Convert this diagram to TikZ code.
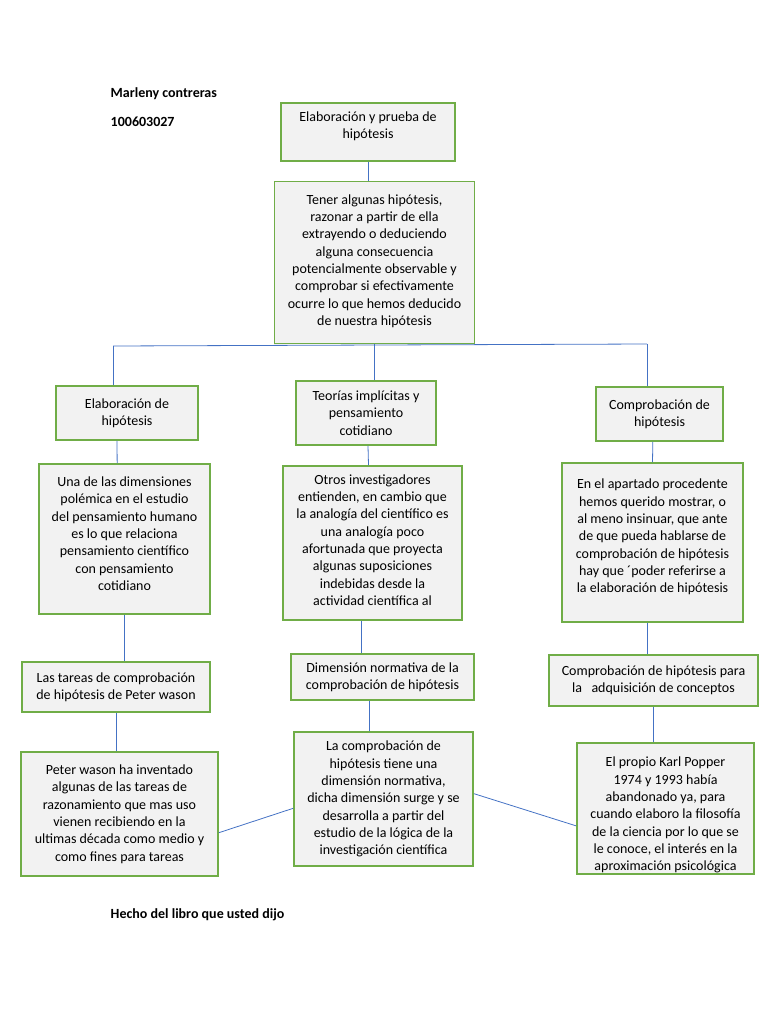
\documentclass[tikz,border=0pt]{standalone}
\usepackage{fontspec}
\setmainfont{Carlito}
\definecolor{verde}{HTML}{70AD47}
\definecolor{gris}{HTML}{F2F2F2}
\definecolor{azul}{HTML}{4472C4}
\tikzset{
  caja/.style={draw=verde, line width=1.4pt, fill=gris, align=center,
    inner sep=2pt, font=\fontsize{10.5}{13}\selectfont},
  linea/.style={draw=azul, line width=0.6pt},
  titulo/.style={anchor=west, font=\fontsize{10.5}{13}\selectfont\bfseries}
}
\begin{document}
\begin{tikzpicture}[x=0.75pt, y=-0.75pt]
\useasboundingbox (0,0) rectangle (768,1024);

\node[titulo] (nombre) at (106,94) {Marleny contreras};
\node[titulo] (codigo) at (106,122) {100603027};
\node[titulo] (nota) at (106,915) {Hecho del libro que usted dijo};

% nivel 1
\node[caja, minimum width=130.5pt, minimum height=43.5pt] (b1) at (368,132) {Elaboración y prueba de\\hipótesis\\[-3pt]};
\node[caja, minimum width=150pt, minimum height=121.5pt] (b2) at (374.5,262.5) {Tener algunas hipótesis,\\razonar a partir de ella\\extrayendo o deduciendo\\alguna consecuencia\\potencialmente observable y\\comprobar si efectivamente\\ocurre lo que hemos deducido\\de nuestra hipótesis\\[-9pt]};

% nivel 2
\node[caja, minimum width=106.5pt, minimum height=40.5pt] (b3) at (127,413) {Elaboración de\\hipótesis};
\node[caja, minimum width=105pt, minimum height=48pt] (b4) at (366,413) {Teorías implícitas y\\pensamiento\\cotidiano};
\node[caja, minimum width=95.25pt, minimum height=40.5pt] (b5) at (659.5,414) {Comprobación de\\hipótesis};

% nivel 3
\node[caja, minimum width=128.25pt, minimum height=112.5pt] (b6) at (124.5,539) {Una de las dimensiones\\polémica en el estudio\\del pensamiento humano\\es lo que relaciona\\pensamiento científico\\con pensamiento\\cotidiano\\[-4.75pt]};
\node[caja, minimum width=134.25pt, minimum height=115.5pt] (b7) at (372.5,543) {Otros investigadores\\entienden, en cambio que\\la analogía del científico es\\una analogía poco\\afortunada que proyecta\\algunas suposiciones\\indebidas desde la\\actividad científica al\\[-8.5pt]};
\node[caja, minimum width=135.75pt, minimum height=119.25pt] (b8) at (652.5,542.5) {En el apartado procedente\\hemos querido mostrar, o\\al meno insinuar, que ante\\de que pueda hablarse de\\comprobación de hipótesis\\hay que ´poder referirse a\\la elaboración de hipótesis\\[-3.25pt]};

% nivel 4
\node[caja, minimum width=141pt, minimum height=37.5pt] (b9) at (116,687) {Las tareas de comprobación\\de hipótesis de Peter wason};
\node[caja, minimum width=137.25pt, minimum height=34.5pt] (b10) at (382.5,677) {Dimensión normativa de la\\comprobación de hipótesis};
\node[caja, minimum width=156.75pt, minimum height=38.25pt] (b11) at (653.5,680.5) {Comprobación de hipótesis para\\la\ \ \ adquisición de conceptos};

% nivel 5
\node[caja, minimum width=147.75pt, minimum height=93pt] (b12) at (119.5,814) {Peter wason ha inventado\\algunas de las tareas de\\razonamiento que mas uso\\vienen recibiendo en la\\ultimas década como medio y\\como fines para tareas};
\node[caja, minimum width=134.25pt, minimum height=100.5pt] (b13) at (383.5,799) {La comprobación de\\hipótesis tiene una\\dimensión normativa,\\dicha dimensión surge y se\\desarrolla a partir del\\estudio de la lógica de la\\investigación científica};
\node[caja, minimum width=132.75pt, minimum height=98.25pt] (b14) at (665.5,808.5) {El propio Karl Popper\\1974 y 1993 había\\abandonado ya, para\\cuando elaboro la filosofía\\de la ciencia por lo que se\\le conoce, el interés en la\\aproximación psicológica\\[-21pt]};

% conectores
\coordinate (izq) at (113,346);
\coordinate (der) at (647,344);
\path[linea] (b1.south) -- (b1.south |- b2.north);
\path[linea] (izq) -- (der);
\path[linea] (izq) -- (izq |- b3.north);
\path[linea] (der) -- (der |- b5.north);
\path[linea] (b2.south) -- (b2.south |- b4.north);

\path[linea] ([xshift=-7.5pt]b3.south) -- ([xshift=-5.5pt]b6.north);
\path[linea] ([xshift=1.5pt]b4.south) -- ([xshift=-3pt]b7.north);
\path[linea] ([xshift=-5pt]b5.south) -- ([xshift=0pt]b8.north);

\path[linea] (b6.south) -- (b6.south |- b9.north);
\path[linea] ([xshift=-8pt]b7.south) -- ([xshift=-8pt]b7.south |- b10.north);
\path[linea] ([xshift=-3.5pt]b8.south) -- ([xshift=-3.5pt]b8.south |- b11.north);

\path[linea] (b9.south) -- (b9.south |- b12.north);
\path[linea] ([xshift=-10pt]b10.south) -- ([xshift=-10pt]b10.south |- b13.north);
\path[linea] (b11.south) -- (b11.south |- b14.north);

\path[linea] ([yshift=-14pt]b12.east) -- ([yshift=-7pt]b13.west);
\path[linea] ([yshift=4pt]b13.east) -- ([yshift=-13pt]b14.west);
\end{tikzpicture}
\end{document}
